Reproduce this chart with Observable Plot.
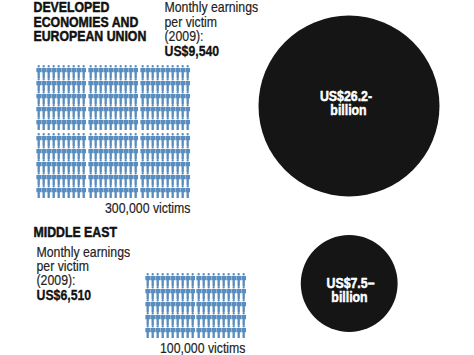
<!DOCTYPE html>
<html><head><meta charset="utf-8">
<script src="https://cdn.jsdelivr.net/npm/d3@7"></script>
<script src="https://cdn.jsdelivr.net/npm/@observablehq/plot@0.6"></script>
<style>html,body{margin:0;padding:0;background:#fff}svg{display:block}</style>
</head><body><div id="c"></div>
<script>
const regions = ["DEVELOPED\nECONOMIES AND\nEUROPEAN UNION", "MIDDLE EAST"];
const earnings = ["US$9,540", "US$6,510"];
const victims = [300000, 100000];
const profits = [26.2, 7.5];
const profitLabels = [["US$26.2-", "billion"], ["US$7.5–", "billion"]];
const victimLabels = ["300,000 victims", "100,000 victims"];
const earningsLines = ["Monthly earnings", "per victim", "(2009):"];
const victimsPerIcon = 1000, iconsPerBlock = 50, iconsPerRow = 10;

// layout (in the chart's own x/y units)
const layout = [
  {heading:[33,[7,22,36]], earn:[164,[7,22,36,51]], blockX:[36,88,140], blockY:[65,133], cx:348.5, cy:105.5,
   victimsLabel:[190,208], profit:[[345.5,96],[348,110]]},
  {heading:[33,[232]], earn:[36,[252,266,280,295]], blockX:[145,196], blockY:[273], cx:348.7, cy:283,
   victimsLabel:[245,348], profit:[[350,283],[349,297]]}
];

const people = [];
victims.forEach((v,i)=>{
  const n = v/victimsPerIcon, L = layout[i];
  for(let k=0;k<n;k++){
    const block = Math.floor(k/iconsPerBlock), q = k%iconsPerBlock;
    const bx = L.blockX[block%L.blockX.length], by = L.blockY[Math.floor(block/L.blockX.length)];
    people.push({x:bx+2.2+(q%iconsPerRow)*5.0, y:by+6+Math.floor(q/iconsPerRow)*13});
  }
});
const personSymbol = {draw(ctx,size){
  const s=Math.sqrt(size)/10;
  ctx.moveTo(1.1*s,-4.9*s);ctx.arc(0,-4.9*s,1.1*s,0,2*Math.PI);
  ctx.moveTo(-2.2*s,-3.4*s);ctx.lineTo(2.2*s,-3.4*s);ctx.lineTo(2.2*s,0.8*s);
  ctx.lineTo(1.1*s,0.8*s);ctx.lineTo(1.1*s,6*s);ctx.lineTo(-1.1*s,6*s);
  ctx.lineTo(-1.1*s,0.8*s);ctx.lineTo(-2.2*s,0.8*s);ctx.closePath();
}};

const headings=[], earn=[], earnBold=[], vl=[], pl=[], circles=[];
regions.forEach((r,i)=>{
  const L=layout[i];
  r.split("\n").forEach((t,j)=>headings.push({t,x:L.heading[0],y:L.heading[1][j]}));
  earningsLines.forEach((t,j)=>earn.push({t,x:L.earn[0],y:L.earn[1][j]}));
  earnBold.push({t:earnings[i],x:L.earn[0],y:L.earn[1][3]});
  vl.push({t:victimLabels[i],x:L.victimsLabel[0],y:L.victimsLabel[1]});
  profitLabels[i].forEach((t,j)=>pl.push({t,x:L.profit[j][0],y:L.profit[j][1]}));
  circles.push({v:profits[i],x:L.cx,y:L.cy});
});

const font="'Liberation Sans',sans-serif";
const T=(d,o)=>Plot.text(d,{x:"x",y:"y",text:"t",fontFamily:font,lineAnchor:"middle",...o});
const chart=Plot.plot({
  width:474,height:355,margin:0,
  style:{background:"#fff",overflow:"hidden"},
  x:{domain:[0,474],range:[0,474],axis:null},
  y:{domain:[0,355],range:[0,355],axis:null},
  r:{type:"sqrt",domain:[0,26.2],range:[0,90.5]},
  marks:[
    Plot.dot(people,{x:"x",y:"y",symbol:personSymbol,r:6,fill:"#5a8dbf",stroke:"none"}),
    Plot.dot(circles,{x:"x",y:"y",r:"v",fill:"#151515",stroke:"none"}),
    T(headings,{textAnchor:"start",fontSize:15,fontWeight:"bold",fill:"#111",stroke:"#111",strokeWidth:0.5}),
    T(earn,{textAnchor:"start",fontSize:15,fill:"#222",stroke:"#222",strokeWidth:0.2}),
    T(earnBold,{textAnchor:"start",fontSize:15,fontWeight:"bold",fill:"#111",stroke:"#111",strokeWidth:0.3}),
    T(vl,{textAnchor:"end",fontSize:15,fill:"#222",stroke:"#222",strokeWidth:0.2}),
    T(pl,{textAnchor:"middle",fontSize:14.5,fontWeight:"bold",fill:"#fff",stroke:"#fff",strokeWidth:0.5})
  ]
});
document.getElementById("c").append(chart);
// the original face is condensed: squeeze each line's glyphs horizontally
chart.querySelectorAll("text").forEach(el=>{
  const squeeze = el.getAttribute("fill")==="#fff" || el.closest("[fill='#fff']") ? 0.85 : 0.82;
  el.setAttribute("textLength",(el.getComputedTextLength()*squeeze).toFixed(1));
  el.setAttribute("lengthAdjust","spacingAndGlyphs");
});
</script></body></html>
